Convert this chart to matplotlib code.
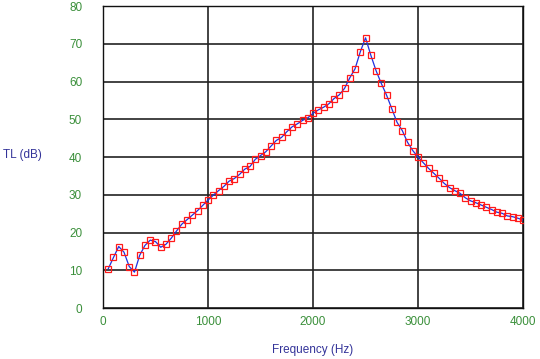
"""
TL (dB) vs Frequency (Hz) 曲线
"""

import numpy as np
from matplotlib import pyplot as plt

# 数据
freq_hz = np.arange(50, 4001, 50)
tl_db = [
    10.4, 13.4, 16.3, 14.8, 11.0, 9.5, 14.0, 16.6, 18.0, 17.6,
    16.1, 16.9, 18.5, 20.4, 22.2, 23.4, 24.6, 25.8, 27.2, 28.6,
    29.9, 31.1, 32.2, 33.6, 34.3, 35.4, 36.8, 37.5, 39.4, 40.4,
    41.4, 42.9, 44.4, 45.2, 46.7, 48.0, 48.8, 49.7, 50.4, 51.6,
    52.5, 53.2, 54.1, 55.5, 56.5, 58.2, 61.0, 63.4, 67.9, 71.6,
    67.0, 62.9, 59.5, 56.4, 52.8, 49.2, 47.0, 43.9, 41.7, 40.0,
    38.5, 37.0, 35.7, 34.4, 33.0, 31.9, 31.1, 30.4, 29.2, 28.4,
    27.9, 27.3, 26.7, 26.1, 25.4, 25.1, 24.4, 24.2, 23.8, 23.3,
]
x_ticks = [0, 1000, 2000, 3000, 4000]
y_ticks = [0, 10, 20, 30, 40, 50, 60, 70, 80]

plt.rcParams["font.family"] = ["Liberation Sans", "DejaVu Sans"]

fig = plt.figure(figsize=(5.4, 3.59), dpi=100)
ax = fig.add_axes([0.1907, 0.142, 0.778, 0.841])

# 曲线 + 红色空心方块
ax.plot(freq_hz, tl_db, color="#1f2fe0", linewidth=0.9, zorder=3)
ax.plot(
    freq_hz, tl_db, linestyle="none", marker="s", markersize=4.3,
    markerfacecolor="none", markeredgecolor="#ff1a1a", markeredgewidth=0.9,
    zorder=4,
)

ax.set_xlim(0, 4000)
ax.set_ylim(0, 80)
ax.set_xticks(x_ticks)
ax.set_yticks(y_ticks)
ax.grid(True, color="#222222", linewidth=1.2)
ax.set_axisbelow(True)
for spine in ax.spines.values():
    spine.set_color("#111111")
    spine.set_linewidth(1.0)

ax.tick_params(axis="both", length=0, labelsize=8.5, labelcolor="#3a8f3a")
ax.tick_params(axis="x", pad=6)
ax.tick_params(axis="y", pad=15)

ax.set_xlabel("Frequency (Hz)", fontsize=8.5, color="#333399")
ax.xaxis.set_label_coords(0.5, -0.139)
ax.xaxis.label.set_va("center")
ax.set_ylabel("TL (dB)", fontsize=8.5, color="#333399", rotation=0,
              ha="left", va="center")
ax.yaxis.set_label_coords(-0.238, 0.507)

plt.savefig("out.png", dpi=100, facecolor="white")
plt.close()
